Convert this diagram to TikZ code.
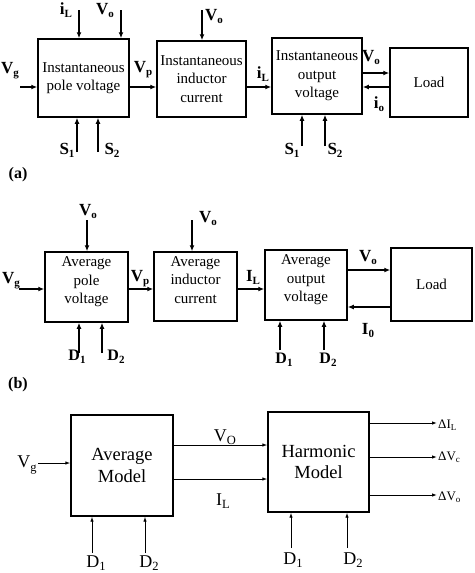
\documentclass[tikz,border=0pt]{standalone}
\usepackage{fontspec}
\setmainfont{Liberation Serif}
\usetikzlibrary{arrows.meta}
\newcommand{\sbl}[1]{\raisebox{-3pt}{\fontsize{11}{11}\selectfont #1}}
\newcommand{\sbc}[1]{\raisebox{-3.5pt}{\fontsize{12.5}{12.5}\selectfont #1}}
\newcommand{\sbd}[1]{\raisebox{-2pt}{\fontsize{9}{9}\selectfont #1}}
\begin{document}
\begin{tikzpicture}[x=1pt,y=-1pt,
  box/.style={draw,line width=1.5pt,align=center,inner sep=0pt,font=\fontsize{15}{18.5}\selectfont},
  upbox/.style={box,text depth=13pt},
  boxc/.style={draw,line width=1.4pt,align=center,inner sep=0pt,font=\fontsize{18.5}{21.5}\selectfont},
  arr/.style={line width=1.2pt,-{Latex[length=6pt,width=5pt]}},
  arrc/.style={line width=0.9pt,-{Latex[length=5pt,width=3.5pt]}},
  lab/.style={inner sep=0pt,font=\fontsize{17}{17}\selectfont\bfseries},
  labb/.style={inner sep=0pt,font=\fontsize{16}{16}\selectfont\bfseries},
  labc/.style={inner sep=0pt,font=\fontsize{18}{18}\selectfont},
  labd/.style={inner sep=0pt,font=\fontsize{13}{13}\selectfont},
  captxt/.style={inner sep=0pt,font=\fontsize{16}{16}\selectfont\bfseries}]
\useasboundingbox (0,0) rectangle (474,573);

% ---------------- (a) ----------------
\node[box,minimum width=91pt,minimum height=78pt] (a1) at (83.5,78) {Instantaneous\\pole voltage};
\node[box,minimum width=89pt,minimum height=76pt] (a2) at (201.5,79) {Instantaneous\\inductor\\current};
\node[box,minimum width=90pt,minimum height=76pt] (a3) at (317,76) {Instantaneous\\output\\voltage};
\node[box,minimum width=78pt,minimum height=69pt] (aL) at (429,82.5) {Load};

\coordinate (avg) at (20,87);
\coordinate (ail) at (79,10);
\coordinate (avo) at (121,10);
\coordinate (as1) at (77,152);
\coordinate (as2) at (98,152);
\coordinate (avo2) at (202,10);
\coordinate (as3) at (302,146);
\coordinate (as4) at (325,146);

\draw[arr] (avg) -- (avg -| a1.west);
\draw[arr] (ail) -- (ail |- a1.north);
\draw[arr] (avo) -- (avo |- a1.north);
\draw[arr] (as1) -- (as1 |- a1.south);
\draw[arr] (as2) -- (as2 |- a1.south);
\draw[arr] ([yshift=-9pt]a1.east) -- ([yshift=-9pt]a1.east -| a2.west);
\draw[arr] (avo2) -- (avo2 |- a2.north);
\draw[arr] ([yshift=-8pt]a2.east) -- ([yshift=-8pt]a2.east -| a3.west);
\draw[arr] ([yshift=3pt]a3.east) -- ([yshift=3pt]a3.east -| aL.west);
\draw[arr] ([yshift=-11pt]a3.east -| aL.west) -- ([yshift=-11pt]a3.east);
\draw[arr] (as3) -- (as3 |- a3.south);
\draw[arr] (as4) -- (as4 |- a3.south);

\node[lab] (lavg) at (10,71) {V\sbl{g}};
\node[lab] (lail) at (66,10) {i\sbl{L}};
\node[lab] (lavo) at (105,10) {V\sbl{o}};
\node[lab] (lavp) at (143,70) {V\sbl{p}};
\node[lab] (las1) at (67,150) {S\sbl{1}};
\node[lab] (las2) at (112,150) {S\sbl{2}};
\node[lab] (lavo2) at (214,16) {V\sbl{o}};
\node[lab] (lail2) at (263,74) {i\sbl{L}};
\node[lab] (lavo3) at (371,57) {V\sbl{o}};
\node[lab] (laio) at (379,104) {i\sbl{o}};
\node[lab] (las3) at (292,150) {S\sbl{1}};
\node[lab] (las4) at (335,150) {S\sbl{2}};
\node[captxt] (capa) at (18,175) {(a)};

% ---------------- (b) ----------------
\node[upbox,minimum width=83pt,minimum height=70pt] (b1) at (86.5,287) {Average\\pole\\voltage};
\node[upbox,minimum width=83pt,minimum height=69pt] (b2) at (195.5,286.5) {Average\\inductor\\current};
\node[upbox,minimum width=82pt,minimum height=70pt] (b3) at (306,285) {Average\\output\\voltage};
\node[box,minimum width=81pt,minimum height=73pt] (bL) at (431.5,284.5) {Load};

\coordinate (bvg) at (19,289);
\coordinate (bvo) at (87,220);
\coordinate (bvo2) at (192,220);
\coordinate (bd1) at (79,353);
\coordinate (bd2) at (102,353);
\coordinate (bd3) at (280,350);
\coordinate (bd4) at (324,350);

\draw[arr] (bvg) -- (bvg -| b1.west);
\draw[arr] (bvo) -- (bvo |- b1.north);
\draw[arr] (bd1) -- (bd1 |- b1.south);
\draw[arr] (bd2) -- (bd2 |- b1.south);
\draw[arr] ([yshift=-2pt]b1.east) -- ([yshift=-2pt]b1.east -| b2.west);
\draw[arr] (bvo2) -- (bvo2 |- b2.north);
\draw[arr] ([yshift=-2.5pt]b2.east) -- ([yshift=-2.5pt]b2.east -| b3.west);
\draw[arr] ([yshift=15pt]b3.east) -- ([yshift=15pt]b3.east -| bL.west);
\draw[arr] ([yshift=-22pt]b3.east -| bL.west) -- ([yshift=-22pt]b3.east);
\draw[arr] (bd3) -- (bd3 |- b3.south);
\draw[arr] (bd4) -- (bd4 |- b3.south);

\node[lab] (lbvo) at (88,211) {V\sbl{o}};
\node[lab] (lbvg) at (11,281) {V\sbl{g}};
\node[lab] (lbvp) at (140,279) {V\sbl{p}};
\node[lab] (lbvo2) at (208,218) {V\sbl{o}};
\node[labb] (lbd1) at (77,357) {D\sbl{1}};
\node[labb] (lbd2) at (116,357) {D\sbl{2}};
\node[lab] (lbil) at (253,277) {I\sbl{L}};
\node[lab] (lbvo3) at (368,257) {V\sbl{o}};
\node[lab] (lbio) at (368,330) {I\sbl{0}};
\node[labb] (lbd3) at (284,360) {D\sbl{1}};
\node[labb] (lbd4) at (328,360) {D\sbl{2}};
\node[captxt] (capb) at (18,385) {(b)};

% ---------------- (c) ----------------
\node[boxc,minimum width=102pt,minimum height=101pt] (c1) at (122,465.5) {Average\\Model};
\node[boxc,minimum width=101pt,minimum height=100pt] (c2) at (318.5,462) {Harmonic\\Model};

\coordinate (cvg) at (38,463);
\coordinate (cd1) at (92,553);
\coordinate (cd2) at (145,553);
\coordinate (cd3) at (291,548);
\coordinate (cd4) at (347,548);
\coordinate (co1) at (437,423);
\coordinate (co2) at (437,457);
\coordinate (co3) at (437,495);

\draw[arrc] (cvg) -- (cvg -| c1.west);
\draw[arrc] (cd1) -- (cd1 |- c1.south);
\draw[arrc] (cd2) -- (cd2 |- c1.south);
\draw[arrc] ([yshift=20.5pt]c1.east) -- ([yshift=20.5pt]c1.east -| c2.west);
\draw[arrc] ([yshift=-13.5pt]c1.east) -- ([yshift=-13.5pt]c1.east -| c2.west);
\draw[arrc] (co1 -| c2.east) -- (co1);
\draw[arrc] (co2 -| c2.east) -- (co2);
\draw[arrc] (co3 -| c2.east) -- (co3);
\draw[arrc] (cd3) -- (cd3 |- c2.south);
\draw[arrc] (cd4) -- (cd4 |- c2.south);

\node[labc] (lcvg) at (27,465) {V\sbc{g}};
\node[labc] (lcvo) at (225,437) {V\sbc{O}};
\node[labc] (lcil) at (223,501) {I\sbc{L}};
\node[labc] (lcd1) at (96,563) {D\sbc{1}};
\node[labc] (lcd2) at (149,563) {D\sbc{2}};
\node[labc] (lcd3) at (293,560) {D\sbc{1}};
\node[labc] (lcd4) at (353,560) {D\sbc{2}};
\node[labd,anchor=west] (lco1) at (438,425) {ΔI\sbd{L}};
\node[labd,anchor=west] (lco2) at (438,457) {ΔV\sbd{c}};
\node[labd,anchor=west] (lco3) at (438,497) {ΔV\sbd{o}};
\end{tikzpicture}
\end{document}
